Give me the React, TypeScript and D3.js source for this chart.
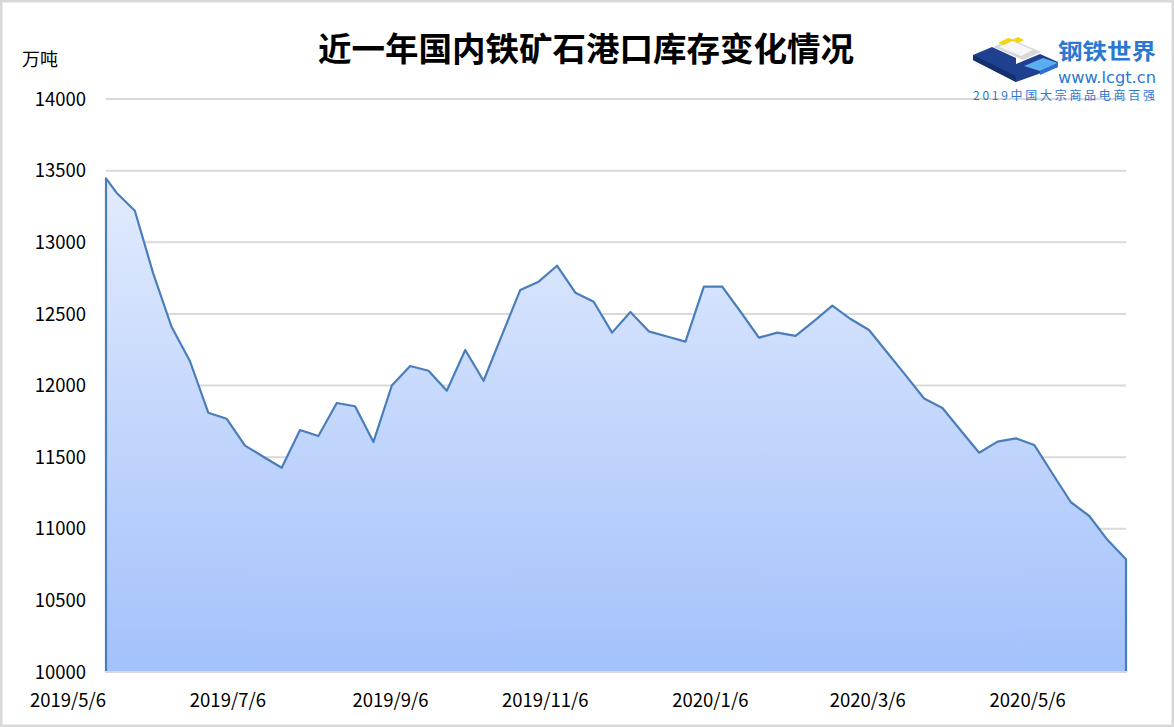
import React from "react";
import * as d3 from "d3";

const dates: string[] = [
  "2019-05-06",
  "2019-05-10", "2019-05-17", "2019-05-24", "2019-05-31",
  "2019-06-07", "2019-06-14", "2019-06-21", "2019-06-28",
  "2019-07-05", "2019-07-12", "2019-07-19", "2019-07-26",
  "2019-08-02", "2019-08-09", "2019-08-16", "2019-08-23", "2019-08-30",
  "2019-09-06", "2019-09-13", "2019-09-20", "2019-09-27",
  "2019-10-04", "2019-10-11", "2019-10-18", "2019-10-25",
  "2019-11-01", "2019-11-08", "2019-11-15", "2019-11-22", "2019-11-29",
  "2019-12-06", "2019-12-13", "2019-12-20", "2019-12-27",
  "2020-01-03", "2020-01-10", "2020-01-17", "2020-01-24", "2020-01-31",
  "2020-02-07", "2020-02-14", "2020-02-21", "2020-02-28",
  "2020-03-06", "2020-03-13", "2020-03-20", "2020-03-27",
  "2020-04-03", "2020-04-10", "2020-04-17", "2020-04-24",
  "2020-05-01", "2020-05-08", "2020-05-15", "2020-05-22", "2020-05-29",
];

const inventory: number[] = [
  13446, 13346, 13220, 12783, 12410, 12171, 11810, 11768, 11580, 11503,
  11426, 11689, 11647, 11878, 11855, 11606, 12000, 12136, 12103, 11964,
  12248, 12033, 12352, 12667, 12725, 12836, 12648, 12585, 12369, 12513,
  12378, 12342, 12306, 12690, 12690, 12515, 12334, 12369, 12346, 12450,
  12557, 12464, 12387, 12229, 12071, 11909, 11843, 11686, 11531, 11608,
  11631, 11585, 11384, 11185, 11089, 10921, 10787,
];

const xTickDates: string[] = [
  "2019-05-06", "2019-07-06", "2019-09-06", "2019-11-06",
  "2020-01-06", "2020-03-06", "2020-05-06",
];
const xTickLabels: string[] = [
  "2019/5/6", "2019/7/6", "2019/9/6", "2019/11/6",
  "2020/1/6", "2020/3/6", "2020/5/6",
];
const yTicks: number[] = [10000, 10500, 11000, 11500, 12000, 12500, 13000, 13500, 14000];

const title = "近一年国内铁矿石港口库存变化情况";
const unitLabel = "万吨";

const W = 1174;
const H = 727;
const FONT = "'Microsoft YaHei','Noto Sans CJK SC','DejaVu Sans',sans-serif";

export default function App() {
  const parse = d3.utcParse("%Y-%m-%d");
  const data = dates.map((d, i) => ({ date: parse(d) as Date, value: inventory[i] }));

  const x = d3
    .scaleUtc()
    .domain([parse(dates[0]) as Date, parse(dates[dates.length - 1]) as Date])
    .range([106, 1126]);
  const y = d3.scaleLinear().domain([10000, 14000]).range([672, 99]);

  const area = d3
    .area<{ date: Date; value: number }>()
    .x((d) => x(d.date))
    .y0(y(10000))
    .y1((d) => y(d.value));

  const first = data[0];
  const last = data[data.length - 1];
  const outline =
    `M${x(first.date)},${y(10000)}` +
    data.map((d) => `L${x(d.date)},${y(d.value)}`).join("") +
    `L${x(last.date)},${y(10000)}`;

  return (
    <svg
      width={W}
      height={H}
      style={{ position: "fixed", left: 0, top: 0, background: "#fff" }}
      fontFamily={FONT}
    >
      <defs>
        <linearGradient id="fillGrad" gradientUnits="userSpaceOnUse" x1="0" y1={y(13500)} x2="0" y2={y(10000)}>
          <stop offset="0" stopColor="#e3ecfd" />
          <stop offset="1" stopColor="#a3c1fb" />
        </linearGradient>
      </defs>
      <rect x={1.25} y={1.25} width={W - 2.5} height={H - 2.5} fill="#fff" stroke="#d9d9d9" strokeWidth={2.5} />

      {/* gridlines */}
      {yTicks.map((t) => (
        <line key={t} x1={106} x2={1126} y1={y(t)} y2={y(t)} stroke="#d9d9d9" strokeWidth={2} />
      ))}

      {/* area */}
      <path d={area(data) || ""} fill="url(#fillGrad)" />
      <path d={outline} fill="none" stroke="#4a7ebb" strokeWidth={2.2} strokeLinejoin="round" />
      <line x1={105} x2={1127} y1={y(10000)} y2={y(10000)} stroke="#d9d9d9" strokeWidth={2} />

      {/* y labels */}
      {yTicks.map((t) => (
        <text key={t} x={86} y={y(t)} dy="0.36em" textAnchor="end" fontSize={18.5} fill="#000">
          {t}
        </text>
      ))}
      <text x={22} y={66} fontSize={18} fill="#000">
        {unitLabel}
      </text>

      {/* x labels */}
      {xTickDates.map((d, i) => (
        <text key={d} x={x(parse(d) as Date)} y={707} textAnchor="end" fontSize={18.5} fill="#000">
          {xTickLabels[i]}
        </text>
      ))}

      {/* title */}
      <text x={586} y={61} textAnchor="middle" fontSize={33.5} fontWeight="bold" fill="#000">
        {title}
      </text>

      {/* logo */}
      <g>
        <polygon points="973,55 992,47 1016,58 1016,64 1040,54 1058,62 1058,67 1016,82 973,60" fill="#1f3f8f" />
        <polygon points="973,55 1016,76 1016,82 973,60" fill="#14306e" />
        <polygon points="1024,66 1043,58 1058,63 1040,71" fill="#5aaef0" />
        <polygon points="1040,71 1058,63 1058,67 1040,75" fill="#2f6fd0" />
        <polygon points="993,47 1011,39 1041,52 1023,60" fill="#d8d8d8" />
        <polygon points="999,47 1012,41 1033,50 1021,56" fill="#f6f6f6" />
        <polygon points="998,43 1008,38 1014,40 1004,45" fill="#f5d60a" />
        <polygon points="1012,40 1018,37 1024,40 1018,43" fill="#f5d60a" />
        <text x={1058} y={59} fontSize={22} fontWeight="bold" fill="#2a78d2" textLength={98} lengthAdjust="spacingAndGlyphs">
          钢铁世界
        </text>
        <text x={1058} y={83} fontSize={15} fontFamily="'DejaVu Sans',sans-serif" fill="#2a78d2" textLength={98} lengthAdjust="spacingAndGlyphs">
          www.lcgt.cn
        </text>
        <text x={973} y={100} fontSize={12} fill="#2a78d2" textLength={182} lengthAdjust="spacing">
          2019中国大宗商品电商百强
        </text>
      </g>
    </svg>
  );
}
